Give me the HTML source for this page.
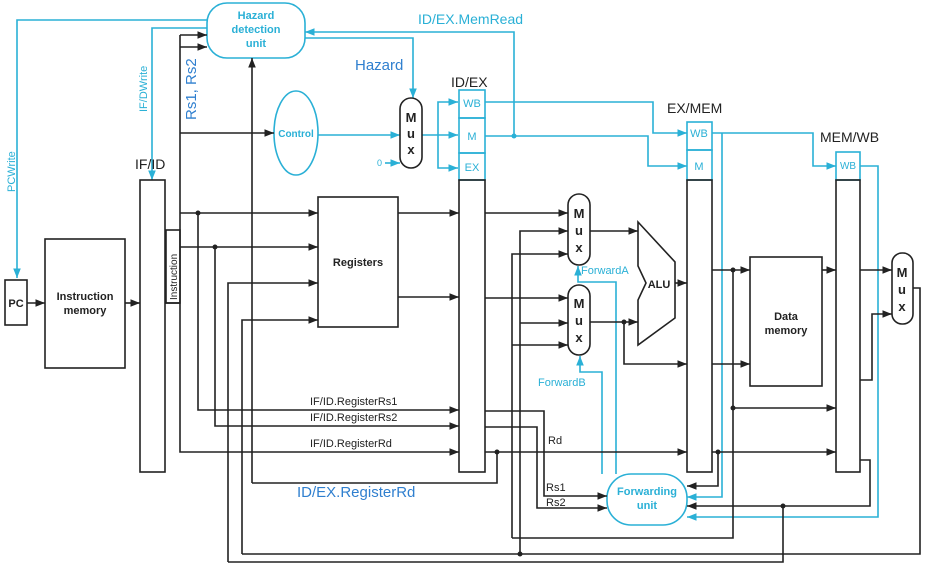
<!DOCTYPE html>
<html><head><meta charset="utf-8"><style>
html,body{margin:0;padding:0;background:#fff;}
svg{display:block;}
text{font-family:"Liberation Sans",Arial,sans-serif;}
</style></head><body>
<svg width="929" height="568" viewBox="0 0 929 568" xmlns="http://www.w3.org/2000/svg">
<defs>
<marker id="a" viewBox="0 0 10 10" refX="10" refY="5" markerWidth="6" markerHeight="6" orient="auto"><path d="M0,1 L10,5 L0,9 z" fill="#222"/></marker>
<marker id="c" viewBox="0 0 10 10" refX="10" refY="5" markerWidth="6" markerHeight="6" orient="auto"><path d="M0,1 L10,5 L0,9 z" fill="#2ab0d6"/></marker>
</defs>
<g fill="none" stroke="#2ab0d6" stroke-width="1.6">
<!-- hazard unit -->
<rect x="207" y="3" width="98" height="55" rx="20"/>
<path d="M207,20 H17 V278" marker-end="url(#c)"/>
<path d="M207,28 H152 V180" marker-end="url(#c)"/>
<path d="M305,38 H413 V98" marker-end="url(#c)"/>
<path d="M514,136 V32 H305" marker-end="url(#c)"/>
<ellipse cx="296" cy="133" rx="22" ry="42"/>
<path d="M318,135 H400" marker-end="url(#c)"/>
<path d="M422,135 H458" marker-end="url(#c)"/>
<path d="M438,135 V102 H458" marker-end="url(#c)"/>
<path d="M438,135 V168 H458" marker-end="url(#c)"/>
<path d="M385,163 H400" marker-end="url(#c)"/>
<!-- ID/EX control -->
<rect x="459" y="90" width="26" height="28"/>
<rect x="459" y="118" width="26" height="35"/>
<rect x="459" y="153" width="26" height="27"/>
<path d="M485,102 H653 V133 H687" marker-end="url(#c)"/>
<path d="M485,136 H648 V166 H687" marker-end="url(#c)"/>
<rect x="687" y="122" width="25" height="28"/>
<rect x="687" y="150" width="25" height="30"/>
<path d="M712,133 H813 V166 H836" marker-end="url(#c)"/>
<rect x="836" y="152" width="24" height="28"/>
<path d="M722,133 V497 H687" marker-end="url(#c)"/>
<path d="M860,166 H878 V517 H687" marker-end="url(#c)"/>
<!-- forwarding -->
<rect x="607" y="474" width="80" height="51" rx="24"/>
<path d="M616,474 V282 H578 V266" marker-end="url(#c)"/>
<path d="M602,474 V372 H580 V356" marker-end="url(#c)"/>
</g>
<circle cx="514" cy="136" r="2.5" fill="#2ab0d6"/>
<g fill="none" stroke="#222" stroke-width="1.6">
<rect x="5" y="280" width="22" height="45"/>
<rect x="45" y="239" width="80" height="129"/>
<path d="M27,303 H45" marker-end="url(#a)"/>
<path d="M125,303 H140" marker-end="url(#a)"/>
<rect x="140" y="180" width="25" height="292"/>
<rect x="166" y="230" width="14" height="73"/>
<path d="M165,303 H180"/>
<path d="M180,35 V452 H459" marker-end="url(#a)"/>
<path d="M180,35 H207" marker-end="url(#a)"/>
<path d="M180,47 H207" marker-end="url(#a)"/>
<path d="M180,133 H274" marker-end="url(#a)"/>
<path d="M180,213 H318" marker-end="url(#a)"/>
<path d="M180,247 H318" marker-end="url(#a)"/>
<path d="M198,213 V410 H459" marker-end="url(#a)"/>
<path d="M215,247 V426 H459" marker-end="url(#a)"/>
<path d="M228,562 V283 H318" marker-end="url(#a)"/>
<path d="M242,554 V320 H318" marker-end="url(#a)"/>
<path d="M252,483 V58" marker-end="url(#a)"/>
<rect x="318" y="197" width="80" height="130"/>
<path d="M398,213 H459" marker-end="url(#a)"/>
<path d="M398,297 H459" marker-end="url(#a)"/>
<rect x="459" y="180" width="26" height="292"/>
<rect x="400" y="98" width="22" height="70" rx="11"/>
<path d="M485,213 H568" marker-end="url(#a)"/>
<path d="M485,298 H568" marker-end="url(#a)"/>
<path d="M520,554 V231 H568" marker-end="url(#a)"/>
<path d="M520,323 H568" marker-end="url(#a)"/>
<path d="M512,538 V254 H568" marker-end="url(#a)"/>
<path d="M512,345 H568" marker-end="url(#a)"/>
<rect x="568" y="194" width="22" height="71" rx="11"/>
<rect x="568" y="285" width="22" height="70" rx="11"/>
<path d="M590,231 H638" marker-end="url(#a)"/>
<path d="M590,322 H638" marker-end="url(#a)"/>
<path d="M624,322 V364 H687" marker-end="url(#a)"/>
<path d="M638,222 L675,262 L675,318 L638,345 L638,300 L646,283 L638,266 Z"/>
<path d="M675,283 H687" marker-end="url(#a)"/>
<rect x="687" y="180" width="25" height="292"/>
<path d="M712,270 H750" marker-end="url(#a)"/>
<path d="M733,270 V538 H512"/>
<path d="M733,408 H836" marker-end="url(#a)"/>
<path d="M712,364 H750" marker-end="url(#a)"/>
<rect x="750" y="257" width="72" height="129"/>
<path d="M822,270 H836" marker-end="url(#a)"/>
<rect x="836" y="180" width="24" height="292"/>
<path d="M860,270 H892" marker-end="url(#a)"/>
<path d="M860,380 H872 V314 H892" marker-end="url(#a)"/>
<rect x="892" y="253" width="21" height="71" rx="10"/>
<path d="M913,288 H920 V554 H242"/>
<path d="M485,411 H544 V496 H607" marker-end="url(#a)"/>
<path d="M485,427 H537 V508 H607" marker-end="url(#a)"/>
<path d="M485,452 H687" marker-end="url(#a)"/>
<path d="M497,452 V483 H252"/>
<path d="M712,452 H836" marker-end="url(#a)"/>
<path d="M718,452 V486 H687" marker-end="url(#a)"/>
<path d="M860,460 H870 V506 H687" marker-end="url(#a)"/>
<path d="M783,506 V562 H228"/>
</g>
<g fill="#222">
<circle cx="198" cy="213" r="2.5"/><circle cx="215" cy="247" r="2.5"/>
<circle cx="624" cy="322" r="2.5"/><circle cx="733" cy="270" r="2.5"/>
<circle cx="733" cy="408" r="2.5"/><circle cx="497" cy="452" r="2.5"/>
<circle cx="718" cy="452" r="2.5"/><circle cx="783" cy="506" r="2.5"/>
<circle cx="520" cy="554" r="2.5"/><circle cx="252" cy="554" r="0"/>
</g>
<g fill="#2ab0d6" font-weight="bold" font-size="11" text-anchor="middle">
<text x="256" y="19">Hazard</text><text x="256" y="33">detection</text><text x="256" y="47">unit</text>
<text x="296" y="137" font-size="10">Control</text>
<text x="647" y="495">Forwarding</text><text x="647" y="509">unit</text>
</g>
<g fill="#2ab0d6" font-size="11">
<text x="472" y="107" text-anchor="middle">WB</text>
<text x="472" y="140" text-anchor="middle">M</text>
<text x="472" y="171" text-anchor="middle">EX</text>
<text x="699" y="137" text-anchor="middle">WB</text>
<text x="699" y="170" text-anchor="middle">M</text>
<text x="848" y="169" text-anchor="middle" font-size="10">WB</text>
<text x="377" y="166" font-size="9">0</text>
<text x="581" y="274">ForwardA</text>
<text x="538" y="386">ForwardB</text>
<text x="418" y="24" font-size="14">ID/EX.MemRead</text>
<text transform="translate(15,192) rotate(-90)" font-size="11">PCWrite</text>
<text transform="translate(147,112) rotate(-90)" font-size="11">IF/DWrite</text>
</g>
<g fill="#2f7fcf" font-size="15">
<text x="355" y="70">Hazard</text>
<text x="297" y="497">ID/EX.RegisterRd</text>
<text transform="translate(196,120) rotate(-90)">Rs1, Rs2</text>
</g>
<g fill="#222" font-size="14">
<text x="135" y="169">IF/ID</text>
<text x="451" y="87">ID/EX</text>
<text x="667" y="113">EX/MEM</text>
<text x="820" y="142">MEM/WB</text>
</g>
<g fill="#222" font-size="11">
<text x="310" y="405">IF/ID.RegisterRs1</text>
<text x="310" y="421">IF/ID.RegisterRs2</text>
<text x="310" y="447">IF/ID.RegisterRd</text>
<text x="548" y="444">Rd</text>
<text x="546" y="491">Rs1</text>
<text x="546" y="506">Rs2</text>
<text transform="translate(177,300) rotate(-90)" font-size="10">Instruction</text>
</g>
<g fill="#222" font-weight="bold" font-size="11" text-anchor="middle">
<text x="16" y="307">PC</text>
<text x="85" y="300">Instruction</text><text x="85" y="314">memory</text>
<text x="358" y="266">Registers</text>
<text x="786" y="320">Data</text><text x="786" y="334">memory</text>
<text x="659" y="288">ALU</text>
<text x="411" y="122" font-size="13">M</text><text x="411" y="138" font-size="13">u</text><text x="411" y="154" font-size="13">x</text>
<text x="579" y="218" font-size="13">M</text><text x="579" y="235" font-size="13">u</text><text x="579" y="252" font-size="13">x</text>
<text x="579" y="308" font-size="13">M</text><text x="579" y="325" font-size="13">u</text><text x="579" y="342" font-size="13">x</text>
<text x="902" y="277" font-size="13">M</text><text x="902" y="294" font-size="13">u</text><text x="902" y="311" font-size="13">x</text>
</g>
</svg>
</body></html>
